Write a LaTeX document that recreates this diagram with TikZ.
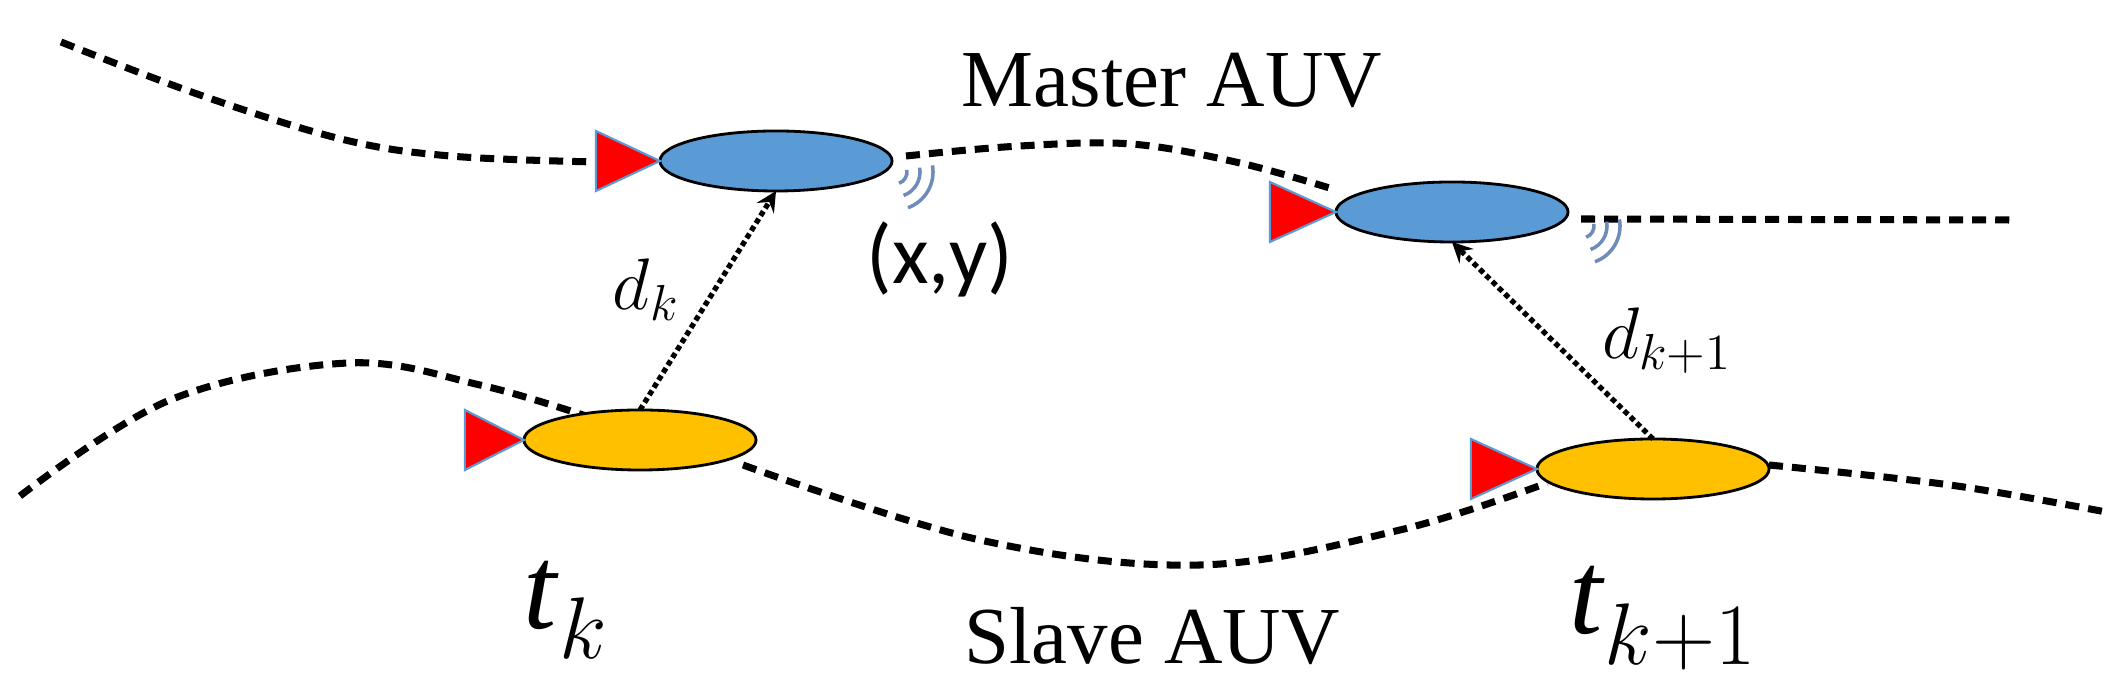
\documentclass[tikz,border=0pt]{standalone}
\usepackage{fontspec}
\setmainfont{Liberation Serif}
\newfontfamily\sansf{Carlito}
\usetikzlibrary{shapes.geometric,arrows}
\definecolor{auvblue}{RGB}{91,155,213}
\definecolor{auvgold}{RGB}{255,192,0}
\definecolor{wavecol}{RGB}{110,140,185}
\begin{document}
\begin{tikzpicture}[x=0.01cm, y=-0.01cm, >=stealth,
	master/.style={ellipse, draw, thick, fill=auvblue, minimum width=2.32cm, minimum height=0.6cm, inner sep=0, outer sep=0},
	slave/.style={ellipse, draw, thick, fill=auvgold, minimum width=2.32cm, minimum height=0.6cm, inner sep=0, outer sep=0},
	fin/.style={fill=red, draw=auvblue, line width=0.6pt},
	track/.style={line width=2pt, dash pattern=on 0.14cm off 0.09cm},
	link/.style={->, densely dotted, line width=1.5pt},
	wave/.style={wavecol, line width=1pt}]

	\useasboundingbox (0,0) rectangle (2126,698);

	% tracks
	\draw[track] plot[smooth, tension=0.6] coordinates {(61,42) (200,95) (341,139) (450,156) (596,162)};
	\draw[track] plot[smooth, tension=0.6] coordinates {(906,156) (1020,146) (1131,144) (1240,163) (1336,190)};
	\draw[track] (1581,219) -- (2010,220);
	\draw[track] plot[smooth, tension=0.6] coordinates {(20,496) (170,400) (348,363) (480,385) (586,416)};
	\draw[track] plot[smooth, tension=0.6] coordinates {(743,465) (980,540) (1200,565) (1400,530) (1547,483)};
	\draw[track] plot[smooth, tension=0.6] coordinates {(1769,465) (1950,485) (2106,512)};

	% vehicles
	\node[master] (m1) at (776,161) {};
	\node[master] (m2) at (1452,212) {};
	\node[slave] (s1) at (640,440) {};
	\node[slave] (s2) at (1653,469) {};
	\foreach \v/\t in {m1/64, m2/66, s1/59, s2/66}
		\filldraw[fin] (\v.west) -- ++(-\t,-30) -- ++(0,60) -- cycle;

	% ranges
	\draw[link] (s1.north) -- node[pos=0.55, left=6pt] {\fontsize{20}{24}\selectfont$d_k$} (m1.south);
	\draw[link] (s2.north) -- node[pos=0.5, right=10pt] {\fontsize{20}{24}\selectfont$d_{k+1}$} (m2.south);

	% signal
	\foreach \r in {0.12,0.25,0.38} {
		\draw[wave] (895,172) ++(10:\r cm) arc[start angle=10, end angle=-70, radius=\r cm];
		\draw[wave] (1582,226) ++(10:\r cm) arc[start angle=10, end angle=-70, radius=\r cm];
	}
	\node (pos) at (940,259) {\sansf\fontsize{24}{28}\selectfont(x,y)};

	% labels
	\node (mlab) at (1172,80) {\fontsize{23}{28}\selectfont Master AUV};
	\node (slab) at (1152,636) {\fontsize{23}{28}\selectfont Slave AUV};
	\node (tk) at (566,610) {\fontsize{34}{40}\selectfont\textit{t}$_k$};
	\node (tk1) at (1663,618) {\fontsize{34}{40}\selectfont\textit{t}$_{k+1}$};
\end{tikzpicture}
\end{document}
